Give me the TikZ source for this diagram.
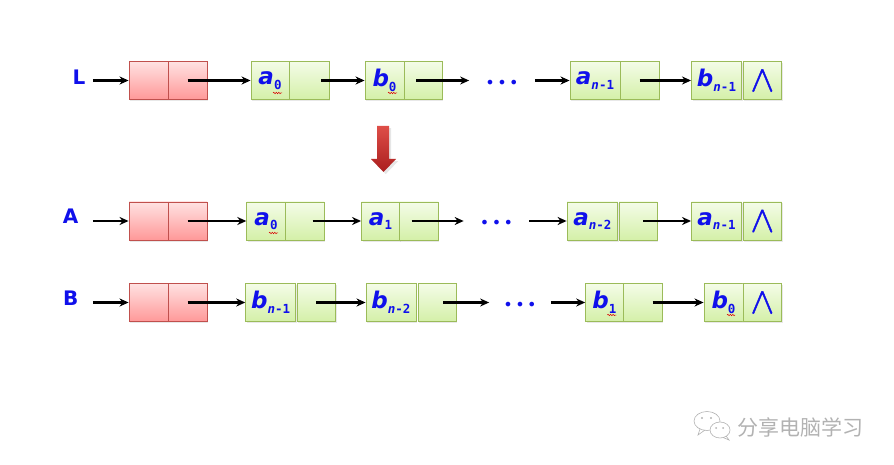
\documentclass[tikz,border=0pt]{standalone}
\usepackage{fontspec}
\newfontfamily\labelfont{DejaVu Sans}
\newfontfamily\subfont{DejaVu Sans Mono}
\newfontfamily\nilfont{latinmodern-math.otf}[FakeBold=1.2]
\newfontfamily\cjkfont{Noto Sans CJK SC}
\usetikzlibrary{arrows.meta,shadows,decorations.pathmorphing}

\definecolor{labelblue}{RGB}{16,16,235}
\definecolor{headtop}{RGB}{255,226,226}
\definecolor{headbot}{RGB}{255,152,152}
\definecolor{headline}{RGB}{192,80,77}
\definecolor{datatop}{RGB}{244,252,232}
\definecolor{databot}{RGB}{212,240,168}
\definecolor{dataline}{RGB}{155,187,89}
\definecolor{downtop}{RGB}{222,78,72}
\definecolor{downbot}{RGB}{170,30,30}
\definecolor{markgray}{RGB}{178,178,178}

\newcommand\sub[1]{\raisebox{-4.5pt}{\subfont\upshape\fontsize{12.5}{12.5}\selectfont #1}}
\newcommand\dotrow{•\hspace{2.5pt}•\hspace{2.5pt}•}

\tikzset{
  cell/.style={draw, line width=0.9pt, minimum height=38pt, inner sep=0pt,
    drop shadow={opacity=0.18, shadow xshift=1pt, shadow yshift=-1.5pt}},
  headcell/.style={cell, draw=headline, top color=headtop, bottom color=headbot, minimum width=39pt},
  datacell/.style={cell, draw=dataline, top color=datatop, bottom color=databot,
    text=labelblue, font=\labelfont\bfseries\itshape\fontsize{23}{23}\selectfont},
  nilcell/.style={datacell, font=\nilfont\fontsize{37}{37}\selectfont},
  listname/.style={text=labelblue, font=\labelfont\bfseries\fontsize{20}{20}\selectfont},
  dotsnode/.style={text=labelblue, inner xsep=16pt, yshift=-3.5pt, font=\labelfont\fontsize{16}{16}\selectfont},
  link/.style={-{Stealth[length=9pt,width=8pt]}, line width=2.2pt},
  squiggle/.style={red!85!black, line width=0.5pt,
    decorate, decoration={snake, segment length=2.5pt, amplitude=0.7pt}}
}

\begin{document}
\begin{tikzpicture}[x=1pt,y=-1pt]
  \useasboundingbox (0,0) rectangle (894,465);

  % Draw the list L
  \node[listname] (Lname) at (79,77) {L};
  \node[headcell] (L1) at (148.5,80.5) {};
  \node[headcell] (L2) at (187.5,80.5) {};
  \node[datacell, minimum width=38pt] (La0) at (270,80.5) {a\sub{0}};
  \node[datacell, minimum width=40pt] (La0n) at (309,80.5) {};
  \node[datacell, minimum width=39pt] (Lb0) at (384.5,80.5) {b\sub{0}};
  \node[datacell, minimum width=38pt] (Lb0n) at (423,80.5) {};
  \node[dotsnode] (Ldots) at (502,80.5) {\dotrow};
  \node[datacell, minimum width=50pt] (Lan) at (595,80.5) {a\sub{{\itshape n}-1}};
  \node[datacell, minimum width=39pt] (Lann) at (639.5,80.5) {};
  \node[datacell, minimum width=50pt] (Lbn) at (716.5,80.5) {b\sub{{\itshape n}-1}};
  \node[nilcell, minimum width=38.5pt] (Lnil) at (762.3,80.5) {∧};

  \draw[link] ([xshift=4pt]Lname.east |- L1) -- (L1.west);
  \draw[link] (L2.center) -- (La0.west);
  \draw[link] ([xshift=12pt]La0n.center) -- (Lb0.west);
  \draw[link] ([xshift=-7pt]Lb0n.center) -- (Ldots.west |- Lb0n);
  \draw[link] (Ldots.east |- Lan) -- (Lan.west);
  \draw[link] (Lann.center) -- (Lbn.west);

  % Draw the big arrow between the two parts
  \shade[top color=downtop, bottom color=downbot, drop shadow={opacity=0.2}]
    (377,126) -- (389,126) -- (389,159) -- (396,159) -- (383.5,172)
    -- (371,159) -- (377,159) -- cycle;

  % Draw the list A
  \node[listname] (Aname) at (70.7,216.7) {A};
  \node[headcell] (A1) at (148.5,221) {};
  \node[headcell] (A2) at (187.5,221) {};
  \node[datacell, minimum width=38.5pt] (Aa0) at (266,221) {a\sub{0}};
  \node[datacell, minimum width=39pt] (Aa0n) at (304.5,221) {};
  \node[datacell, minimum width=38pt] (Aa1) at (380.5,221) {a\sub{1}};
  \node[datacell, minimum width=39pt] (Aa1n) at (418.5,221) {};
  \node[dotsnode] (Adots) at (496.5,221) {\dotrow};
  \node[datacell, minimum width=50.5pt] (Aan2) at (592.3,221) {a\sub{{\itshape n}-2}};
  \node[datacell, minimum width=38pt] (Aan2n) at (638,221) {};
  \node[datacell, minimum width=50pt] (Aan1) at (716.5,221) {a\sub{{\itshape n}-1}};
  \node[nilcell, minimum width=38.5pt] (Anil) at (762.3,221) {∧};

  \draw[link] ([xshift=11pt]Aname.east |- A1) -- (A1.west);
  \draw[link] (A2.center) -- (Aa0.west);
  \draw[link] ([xshift=8pt]Aa0n.center) -- (Aa1.west);
  \draw[link] ([xshift=-7pt]Aa1n.center) -- (Adots.west |- Aa1n);
  \draw[link] (Adots.east |- Aan2) -- (Aan2.west);
  \draw[link] ([xshift=5pt]Aan2n.center) -- (Aan1.west);

  % Draw the list B
  \node[listname] (Bname) at (70.7,298) {B};
  \node[headcell] (B1) at (148.5,302.5) {};
  \node[headcell] (B2) at (187.5,302.5) {};
  \node[datacell, minimum width=50pt] (Bbn1) at (270.7,302.5) {b\sub{{\itshape n}-1}};
  \node[datacell, minimum width=38.7pt] (Bbn1n) at (316.3,302.5) {};
  \node[datacell, minimum width=50pt] (Bbn2) at (391,302.5) {b\sub{{\itshape n}-2}};
  \node[datacell, minimum width=38pt] (Bbn2n) at (437,302.5) {};
  \node[dotsnode, inner xsep=14pt] (Bdots) at (520,302.5) {\dotrow};
  \node[datacell, minimum width=37.3pt] (Bb1) at (604.3,302.5) {b\sub{1}};
  \node[datacell, minimum width=39pt] (Bb1n) at (642.5,302.5) {};
  \node[datacell, minimum width=39pt] (Bb0) at (723.5,302.5) {b\sub{0}};
  \node[nilcell, minimum width=38.7pt] (Bnil) at (762.3,302.5) {∧};

  \draw[link] ([xshift=11pt]Bname.east |- B1) -- (B1.west);
  \draw[link] (B2.center) -- (Bbn1.west);
  \draw[link] (Bbn1n.center) -- (Bbn2.west);
  \draw[link] ([xshift=6pt]Bbn2n.center) -- (Bdots.west |- Bbn2n);
  \draw[link] (Bdots.east |- Bb1) -- (Bb1.west);
  \draw[link] ([xshift=10pt]Bb1n.center) -- (Bb0.west);

  % Red spelling marks under the zeros and the one
  \draw[squiggle] ([shift={(3,12.5)}]La0.center) -- +(9,0);
  \draw[squiggle] ([shift={(3.5,12.5)}]Lb0.center) -- +(9,0);
  \draw[squiggle] ([shift={(3,12)}]Aa0.center) -- +(9,0);
  \draw[squiggle] ([shift={(3,12.5)}]Bb1.center) -- +(9,0);
  \draw[squiggle] ([shift={(3.5,12.5)}]Bb0.center) -- +(8,0);

  % Draw the watermark
  \begin{scope}[draw=markgray, line width=0.6pt]
    \draw (707,421) ellipse [x radius=13, y radius=9.5];
    \draw (700,429) -- (698,435) -- (705,430);
    \filldraw[fill=white] (720,430) ellipse [x radius=10, y radius=8];
    \draw (726,436) -- (729,440) -- (723,437.5);
    \fill[markgray] (702,418) circle (1.1) (711,418) circle (1.1)
      (716,428) circle (1) (723,428) circle (1);
  \end{scope}
  \node[text=markgray, font=\cjkfont\fontsize{21}{21}\selectfont] (mark) at (800,427) {分享电脑学习};
\end{tikzpicture}
\end{document}
